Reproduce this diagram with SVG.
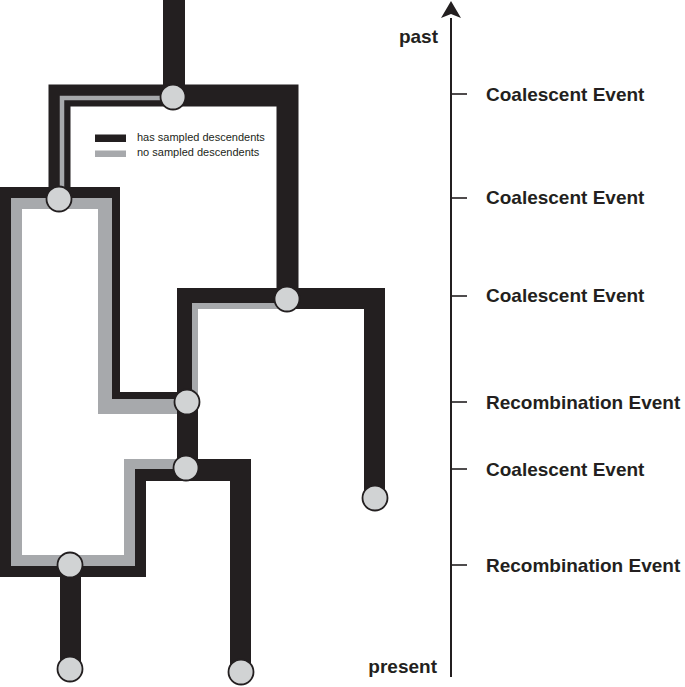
<svg xmlns="http://www.w3.org/2000/svg" width="685" height="687" viewBox="0 0 685 687">
  <style>
    .blk { fill: #231f20; }
    .gry { fill: #a7a9ac; }
    .band { fill: none; stroke: #231f20; stroke-linejoin: miter; stroke-linecap: butt; }
    .gband { fill: none; stroke: #a7a9ac; stroke-linejoin: miter; stroke-linecap: butt; }
    .node { fill: #d1d3d4; stroke: #231f20; stroke-width: 1.8; }
    .lab { font-family: "Liberation Sans", Arial, Helvetica, sans-serif; font-weight: bold; font-size: 19px; fill: #231f20; }
    .leg { font-family: "Liberation Sans", Arial, Helvetica, sans-serif; font-size: 11px; fill: #231f20; }
    .tick { stroke: #231f20; stroke-width: 1.6; }
  </style>
  <defs>
    <marker id="arrow" viewBox="-1 -11 20 22" refX="0" refY="0" markerWidth="20" markerHeight="22" markerUnits="userSpaceOnUse" orient="auto">
      <path d="M17,0 L0,-10 L4,0 L0,10 Z" fill="#231f20"/>
    </marker>
  </defs>
  <rect width="685" height="687" fill="#ffffff"/>

  <g id="connectors">
    <!-- root stub -->
    <rect class="blk" x="163" y="0" width="22" height="97"/>
    <!-- top U -->
    <polyline class="band" stroke-width="22" points="59.5,199 59.5,95.5 287.5,95.5 287.5,299"/>
    <polyline class="gband" stroke-width="4.5" points="62,199 62,98 173,98"/>
    <!-- big loop from node 2 (black half / grey half) -->
    <path class="blk" d="M0,187 H120 V392 H187 V399 H112 V198 H11 V566 H135 V469 H187 V481 H146 V577 H0 Z"/>
    <path class="gry" d="M11,198 H112 V399 H180 V414 H98 V209 H22 V555 H124 V459 H180 V469 H135 V566 H11 Z"/>
    <!-- node 3 branches -->
    <path class="blk" d="M177,288 H385 V498 H364 V309 H287 V303 H192 V403 H177 Z"/>
    <path class="gry" d="M192,303 H287 V309 H198 V403 H192 Z"/>
    <!-- node 4 to node 5 -->
    <rect class="blk" x="177" y="400" width="21" height="70"/>
    <!-- node 5 right branch -->
    <path class="blk" d="M187,459 H251 V672 H230 V481 H187 Z"/>
    <!-- node 6 stub -->
    <rect class="blk" x="60" y="565" width="21" height="104"/>
  </g>

  <g id="legend">
    <rect class="blk" x="95" y="134.5" width="31" height="7.5"/>
    <text class="leg" x="137" y="141">has sampled descendents</text>
    <rect class="gry" x="95" y="150.5" width="31" height="6.5"/>
    <text class="leg" x="137" y="156">no sampled descendents</text>
  </g>

  <g id="n1"><circle class="node" cx="173" cy="97" r="12.5"/></g>
  <g id="n2"><circle class="node" cx="59" cy="199" r="12.5"/></g>
  <g id="n3"><circle class="node" cx="287" cy="299" r="12.5"/></g>
  <g id="n4"><circle class="node" cx="187" cy="402" r="12.5"/></g>
  <g id="n5"><circle class="node" cx="186" cy="468" r="12.5"/></g>
  <g id="n6"><circle class="node" cx="70" cy="565" r="12.5"/></g>
  <g id="leaf1"><circle class="node" cx="70" cy="669" r="12.5"/></g>
  <g id="leaf2"><circle class="node" cx="241" cy="672" r="12.5"/></g>
  <g id="leaf3"><circle class="node" cx="375" cy="498" r="12.5"/></g>

  <g id="axis">
    <line x1="451" y1="677" x2="451" y2="18" stroke="#231f20" stroke-width="2" marker-end="url(#arrow)"/>
    <line class="tick" x1="451" y1="94" x2="467" y2="94"/>
    <line class="tick" x1="451" y1="198" x2="467" y2="198"/>
    <line class="tick" x1="451" y1="296" x2="467" y2="296"/>
    <line class="tick" x1="451" y1="402" x2="467" y2="402"/>
    <line class="tick" x1="451" y1="469" x2="467" y2="469"/>
    <line class="tick" x1="451" y1="565" x2="467" y2="565"/>
    <text class="lab" x="438" y="43" text-anchor="end">past</text>
    <text class="lab" x="437" y="673" text-anchor="end">present</text>
    <text class="lab" x="486" y="101">Coalescent Event</text>
    <text class="lab" x="486" y="204">Coalescent Event</text>
    <text class="lab" x="486" y="302">Coalescent Event</text>
    <text class="lab" x="486" y="409">Recombination Event</text>
    <text class="lab" x="486" y="476">Coalescent Event</text>
    <text class="lab" x="486" y="572">Recombination Event</text>
  </g>
</svg>
